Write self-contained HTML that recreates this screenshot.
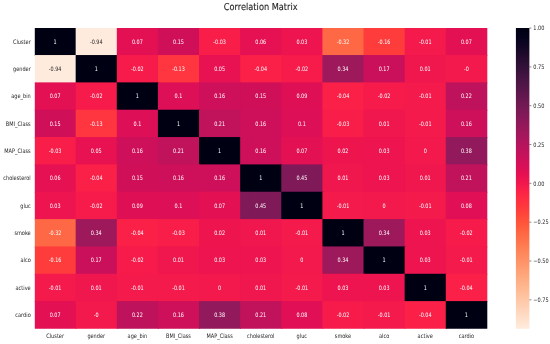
<!DOCTYPE html>
<html lang="en"><head><meta charset="utf-8"><title>Correlation Matrix</title>
<style>html,body{margin:0;padding:0;background:#fff;}svg{display:block;}text{font-family:"DejaVu Sans", "Liberation Sans", sans-serif;text-rendering:geometricPrecision;}</style></head><body>
<svg width="550" height="344" viewBox="0 0 550 344">
<rect x="0" y="0" width="550" height="344" fill="#ffffff"/>
<defs><linearGradient id="cb" x1="0" y1="0" x2="0" y2="1"><stop offset="0.0000" stop-color="#000013"/><stop offset="0.0156" stop-color="#010117"/><stop offset="0.0312" stop-color="#04021b"/><stop offset="0.0469" stop-color="#0b0420"/><stop offset="0.0625" stop-color="#120624"/><stop offset="0.0781" stop-color="#1a0929"/><stop offset="0.0938" stop-color="#220b2e"/><stop offset="0.1094" stop-color="#290e32"/><stop offset="0.1250" stop-color="#311037"/><stop offset="0.1406" stop-color="#38113b"/><stop offset="0.1562" stop-color="#401340"/><stop offset="0.1719" stop-color="#481444"/><stop offset="0.1875" stop-color="#4f1647"/><stop offset="0.2031" stop-color="#57174b"/><stop offset="0.2188" stop-color="#5f174e"/><stop offset="0.2344" stop-color="#671850"/><stop offset="0.2500" stop-color="#6f1953"/><stop offset="0.2656" stop-color="#761955"/><stop offset="0.2812" stop-color="#7e1957"/><stop offset="0.2969" stop-color="#861959"/><stop offset="0.3125" stop-color="#8e195a"/><stop offset="0.3281" stop-color="#96185b"/><stop offset="0.3438" stop-color="#9e185c"/><stop offset="0.3594" stop-color="#a6175d"/><stop offset="0.3750" stop-color="#ae155d"/><stop offset="0.3906" stop-color="#b7145d"/><stop offset="0.4062" stop-color="#bf125c"/><stop offset="0.4219" stop-color="#c6115b"/><stop offset="0.4375" stop-color="#ce105a"/><stop offset="0.4531" stop-color="#d60f58"/><stop offset="0.4688" stop-color="#dd0f56"/><stop offset="0.4844" stop-color="#e41053"/><stop offset="0.5000" stop-color="#eb1350"/><stop offset="0.5156" stop-color="#f1174d"/><stop offset="0.5312" stop-color="#f71d4a"/><stop offset="0.5469" stop-color="#fd2347"/><stop offset="0.5625" stop-color="#ff2a43"/><stop offset="0.5781" stop-color="#ff3140"/><stop offset="0.5938" stop-color="#ff383d"/><stop offset="0.6094" stop-color="#ff403c"/><stop offset="0.6250" stop-color="#ff493b"/><stop offset="0.6406" stop-color="#ff513b"/><stop offset="0.6562" stop-color="#ff593d"/><stop offset="0.6719" stop-color="#ff6240"/><stop offset="0.6875" stop-color="#ff6a45"/><stop offset="0.7031" stop-color="#ff714a"/><stop offset="0.7188" stop-color="#ff794f"/><stop offset="0.7344" stop-color="#ff8055"/><stop offset="0.7500" stop-color="#ff875c"/><stop offset="0.7656" stop-color="#ff8e62"/><stop offset="0.7812" stop-color="#ff9569"/><stop offset="0.7969" stop-color="#ff9c70"/><stop offset="0.8125" stop-color="#ffa377"/><stop offset="0.8281" stop-color="#ffa97f"/><stop offset="0.8438" stop-color="#ffb086"/><stop offset="0.8594" stop-color="#ffb68e"/><stop offset="0.8750" stop-color="#ffbc97"/><stop offset="0.8906" stop-color="#ffc29f"/><stop offset="0.9062" stop-color="#ffc8a8"/><stop offset="0.9219" stop-color="#ffceb1"/><stop offset="0.9375" stop-color="#ffd4ba"/><stop offset="0.9531" stop-color="#ffdac3"/><stop offset="0.9688" stop-color="#ffe0cc"/><stop offset="0.9844" stop-color="#ffe6d4"/><stop offset="1.0000" stop-color="#ffebdd"/></linearGradient></defs>
<g>
<rect x="34.80" y="28.00" width="41.87" height="28.04" fill="#000013"/>
<rect x="75.67" y="28.00" width="42.12" height="28.04" fill="#ffebdd"/>
<rect x="116.80" y="28.00" width="42.12" height="28.04" fill="#e31054"/>
<rect x="157.92" y="28.00" width="42.12" height="28.04" fill="#d00f59"/>
<rect x="199.04" y="28.00" width="42.12" height="28.04" fill="#f91e49"/>
<rect x="240.16" y="28.00" width="42.12" height="28.04" fill="#e61153"/>
<rect x="281.29" y="28.00" width="42.12" height="28.04" fill="#ed1450"/>
<rect x="322.41" y="28.00" width="42.12" height="28.04" fill="#ff6844"/>
<rect x="363.53" y="28.00" width="42.12" height="28.04" fill="#ff3c3c"/>
<rect x="404.65" y="28.00" width="42.12" height="28.04" fill="#f41a4c"/>
<rect x="445.78" y="28.00" width="41.52" height="28.04" fill="#e31054"/>
<rect x="34.80" y="55.04" width="41.87" height="28.34" fill="#ffebdd"/>
<rect x="75.67" y="55.04" width="42.12" height="28.34" fill="#000013"/>
<rect x="116.80" y="55.04" width="42.12" height="28.34" fill="#f61b4b"/>
<rect x="157.92" y="55.04" width="42.12" height="28.34" fill="#ff353f"/>
<rect x="199.04" y="55.04" width="42.12" height="28.34" fill="#e81152"/>
<rect x="240.16" y="55.04" width="42.12" height="28.34" fill="#fa2048"/>
<rect x="281.29" y="55.04" width="42.12" height="28.34" fill="#f61b4b"/>
<rect x="322.41" y="55.04" width="42.12" height="28.34" fill="#9e185c"/>
<rect x="363.53" y="55.04" width="42.12" height="28.34" fill="#ca105b"/>
<rect x="404.65" y="55.04" width="42.12" height="28.34" fill="#f0164e"/>
<rect x="445.78" y="55.04" width="41.52" height="28.34" fill="#f3194c"/>
<rect x="34.80" y="82.38" width="41.87" height="28.34" fill="#e31054"/>
<rect x="75.67" y="82.38" width="42.12" height="28.34" fill="#f61b4b"/>
<rect x="116.80" y="82.38" width="42.12" height="28.34" fill="#000013"/>
<rect x="157.92" y="82.38" width="42.12" height="28.34" fill="#dd0f56"/>
<rect x="199.04" y="82.38" width="42.12" height="28.34" fill="#ce105a"/>
<rect x="240.16" y="82.38" width="42.12" height="28.34" fill="#d00f59"/>
<rect x="281.29" y="82.38" width="42.12" height="28.34" fill="#df0f55"/>
<rect x="322.41" y="82.38" width="42.12" height="28.34" fill="#fa2048"/>
<rect x="363.53" y="82.38" width="42.12" height="28.34" fill="#f61b4b"/>
<rect x="404.65" y="82.38" width="42.12" height="28.34" fill="#f41a4c"/>
<rect x="445.78" y="82.38" width="41.52" height="28.34" fill="#bf125c"/>
<rect x="34.80" y="109.72" width="41.87" height="28.34" fill="#d00f59"/>
<rect x="75.67" y="109.72" width="42.12" height="28.34" fill="#ff353f"/>
<rect x="116.80" y="109.72" width="42.12" height="28.34" fill="#dd0f56"/>
<rect x="157.92" y="109.72" width="42.12" height="28.34" fill="#000013"/>
<rect x="199.04" y="109.72" width="42.12" height="28.34" fill="#c1125c"/>
<rect x="240.16" y="109.72" width="42.12" height="28.34" fill="#ce105a"/>
<rect x="281.29" y="109.72" width="42.12" height="28.34" fill="#dd0f56"/>
<rect x="322.41" y="109.72" width="42.12" height="28.34" fill="#f91e49"/>
<rect x="363.53" y="109.72" width="42.12" height="28.34" fill="#f0164e"/>
<rect x="404.65" y="109.72" width="42.12" height="28.34" fill="#f41a4c"/>
<rect x="445.78" y="109.72" width="41.52" height="28.34" fill="#ce105a"/>
<rect x="34.80" y="137.06" width="41.87" height="28.34" fill="#f91e49"/>
<rect x="75.67" y="137.06" width="42.12" height="28.34" fill="#e81152"/>
<rect x="116.80" y="137.06" width="42.12" height="28.34" fill="#ce105a"/>
<rect x="157.92" y="137.06" width="42.12" height="28.34" fill="#c1125c"/>
<rect x="199.04" y="137.06" width="42.12" height="28.34" fill="#000013"/>
<rect x="240.16" y="137.06" width="42.12" height="28.34" fill="#ce105a"/>
<rect x="281.29" y="137.06" width="42.12" height="28.34" fill="#e31054"/>
<rect x="322.41" y="137.06" width="42.12" height="28.34" fill="#ee154f"/>
<rect x="363.53" y="137.06" width="42.12" height="28.34" fill="#ed1450"/>
<rect x="404.65" y="137.06" width="42.12" height="28.34" fill="#f3194c"/>
<rect x="445.78" y="137.06" width="41.52" height="28.34" fill="#92195b"/>
<rect x="34.80" y="164.40" width="41.87" height="28.34" fill="#e61153"/>
<rect x="75.67" y="164.40" width="42.12" height="28.34" fill="#fa2048"/>
<rect x="116.80" y="164.40" width="42.12" height="28.34" fill="#d00f59"/>
<rect x="157.92" y="164.40" width="42.12" height="28.34" fill="#ce105a"/>
<rect x="199.04" y="164.40" width="42.12" height="28.34" fill="#ce105a"/>
<rect x="240.16" y="164.40" width="42.12" height="28.34" fill="#000013"/>
<rect x="281.29" y="164.40" width="42.12" height="28.34" fill="#801958"/>
<rect x="322.41" y="164.40" width="42.12" height="28.34" fill="#f0164e"/>
<rect x="363.53" y="164.40" width="42.12" height="28.34" fill="#ed1450"/>
<rect x="404.65" y="164.40" width="42.12" height="28.34" fill="#f0164e"/>
<rect x="445.78" y="164.40" width="41.52" height="28.34" fill="#c1125c"/>
<rect x="34.80" y="191.75" width="41.87" height="28.34" fill="#ed1450"/>
<rect x="75.67" y="191.75" width="42.12" height="28.34" fill="#f61b4b"/>
<rect x="116.80" y="191.75" width="42.12" height="28.34" fill="#df0f55"/>
<rect x="157.92" y="191.75" width="42.12" height="28.34" fill="#dd0f56"/>
<rect x="199.04" y="191.75" width="42.12" height="28.34" fill="#e31054"/>
<rect x="240.16" y="191.75" width="42.12" height="28.34" fill="#801958"/>
<rect x="281.29" y="191.75" width="42.12" height="28.34" fill="#000013"/>
<rect x="322.41" y="191.75" width="42.12" height="28.34" fill="#f41a4c"/>
<rect x="363.53" y="191.75" width="42.12" height="28.34" fill="#f3194c"/>
<rect x="404.65" y="191.75" width="42.12" height="28.34" fill="#f41a4c"/>
<rect x="445.78" y="191.75" width="41.52" height="28.34" fill="#e10f55"/>
<rect x="34.80" y="219.09" width="41.87" height="28.34" fill="#ff6844"/>
<rect x="75.67" y="219.09" width="42.12" height="28.34" fill="#9e185c"/>
<rect x="116.80" y="219.09" width="42.12" height="28.34" fill="#fa2048"/>
<rect x="157.92" y="219.09" width="42.12" height="28.34" fill="#f91e49"/>
<rect x="199.04" y="219.09" width="42.12" height="28.34" fill="#ee154f"/>
<rect x="240.16" y="219.09" width="42.12" height="28.34" fill="#f0164e"/>
<rect x="281.29" y="219.09" width="42.12" height="28.34" fill="#f41a4c"/>
<rect x="322.41" y="219.09" width="42.12" height="28.34" fill="#000013"/>
<rect x="363.53" y="219.09" width="42.12" height="28.34" fill="#9e185c"/>
<rect x="404.65" y="219.09" width="42.12" height="28.34" fill="#ed1450"/>
<rect x="445.78" y="219.09" width="41.52" height="28.34" fill="#f61b4b"/>
<rect x="34.80" y="246.43" width="41.87" height="28.34" fill="#ff3c3c"/>
<rect x="75.67" y="246.43" width="42.12" height="28.34" fill="#ca105b"/>
<rect x="116.80" y="246.43" width="42.12" height="28.34" fill="#f61b4b"/>
<rect x="157.92" y="246.43" width="42.12" height="28.34" fill="#f0164e"/>
<rect x="199.04" y="246.43" width="42.12" height="28.34" fill="#ed1450"/>
<rect x="240.16" y="246.43" width="42.12" height="28.34" fill="#ed1450"/>
<rect x="281.29" y="246.43" width="42.12" height="28.34" fill="#f3194c"/>
<rect x="322.41" y="246.43" width="42.12" height="28.34" fill="#9e185c"/>
<rect x="363.53" y="246.43" width="42.12" height="28.34" fill="#000013"/>
<rect x="404.65" y="246.43" width="42.12" height="28.34" fill="#ed1450"/>
<rect x="445.78" y="246.43" width="41.52" height="28.34" fill="#f41a4c"/>
<rect x="34.80" y="273.77" width="41.87" height="28.34" fill="#f41a4c"/>
<rect x="75.67" y="273.77" width="42.12" height="28.34" fill="#f0164e"/>
<rect x="116.80" y="273.77" width="42.12" height="28.34" fill="#f41a4c"/>
<rect x="157.92" y="273.77" width="42.12" height="28.34" fill="#f41a4c"/>
<rect x="199.04" y="273.77" width="42.12" height="28.34" fill="#f3194c"/>
<rect x="240.16" y="273.77" width="42.12" height="28.34" fill="#f0164e"/>
<rect x="281.29" y="273.77" width="42.12" height="28.34" fill="#f41a4c"/>
<rect x="322.41" y="273.77" width="42.12" height="28.34" fill="#ed1450"/>
<rect x="363.53" y="273.77" width="42.12" height="28.34" fill="#ed1450"/>
<rect x="404.65" y="273.77" width="42.12" height="28.34" fill="#000013"/>
<rect x="445.78" y="273.77" width="41.52" height="28.34" fill="#fa2048"/>
<rect x="34.80" y="301.11" width="41.87" height="27.64" fill="#e31054"/>
<rect x="75.67" y="301.11" width="42.12" height="27.64" fill="#f3194c"/>
<rect x="116.80" y="301.11" width="42.12" height="27.64" fill="#bf125c"/>
<rect x="157.92" y="301.11" width="42.12" height="27.64" fill="#ce105a"/>
<rect x="199.04" y="301.11" width="42.12" height="27.64" fill="#92195b"/>
<rect x="240.16" y="301.11" width="42.12" height="27.64" fill="#c1125c"/>
<rect x="281.29" y="301.11" width="42.12" height="27.64" fill="#e10f55"/>
<rect x="322.41" y="301.11" width="42.12" height="27.64" fill="#f61b4b"/>
<rect x="363.53" y="301.11" width="42.12" height="27.64" fill="#f41a4c"/>
<rect x="404.65" y="301.11" width="42.12" height="27.64" fill="#fa2048"/>
<rect x="445.78" y="301.11" width="41.52" height="27.64" fill="#000013"/>
</g>
<g font-size="6.1" text-anchor="middle">
<text transform="translate(55.11,41.37) scale(0.8,1)" dy="0.355em" fill="#ffffff">1</text>
<text transform="translate(96.23,41.37) scale(0.8,1)" dy="0.355em" fill="#262626">-0.94</text>
<text transform="translate(137.36,41.37) scale(0.8,1)" dy="0.355em" fill="#ffffff">0.07</text>
<text transform="translate(178.48,41.37) scale(0.8,1)" dy="0.355em" fill="#ffffff">0.15</text>
<text transform="translate(219.60,41.37) scale(0.8,1)" dy="0.355em" fill="#ffffff">-0.03</text>
<text transform="translate(260.72,41.37) scale(0.8,1)" dy="0.355em" fill="#ffffff">0.06</text>
<text transform="translate(301.85,41.37) scale(0.8,1)" dy="0.355em" fill="#ffffff">0.03</text>
<text transform="translate(342.97,41.37) scale(0.8,1)" dy="0.355em" fill="#ffffff">-0.32</text>
<text transform="translate(384.09,41.37) scale(0.8,1)" dy="0.355em" fill="#ffffff">-0.16</text>
<text transform="translate(425.22,41.37) scale(0.8,1)" dy="0.355em" fill="#ffffff">-0.01</text>
<text transform="translate(466.34,41.37) scale(0.8,1)" dy="0.355em" fill="#ffffff">0.07</text>
<text transform="translate(55.11,68.71) scale(0.8,1)" dy="0.355em" fill="#262626">-0.94</text>
<text transform="translate(96.23,68.71) scale(0.8,1)" dy="0.355em" fill="#ffffff">1</text>
<text transform="translate(137.36,68.71) scale(0.8,1)" dy="0.355em" fill="#ffffff">-0.02</text>
<text transform="translate(178.48,68.71) scale(0.8,1)" dy="0.355em" fill="#ffffff">-0.13</text>
<text transform="translate(219.60,68.71) scale(0.8,1)" dy="0.355em" fill="#ffffff">0.05</text>
<text transform="translate(260.72,68.71) scale(0.8,1)" dy="0.355em" fill="#ffffff">-0.04</text>
<text transform="translate(301.85,68.71) scale(0.8,1)" dy="0.355em" fill="#ffffff">-0.02</text>
<text transform="translate(342.97,68.71) scale(0.8,1)" dy="0.355em" fill="#ffffff">0.34</text>
<text transform="translate(384.09,68.71) scale(0.8,1)" dy="0.355em" fill="#ffffff">0.17</text>
<text transform="translate(425.22,68.71) scale(0.8,1)" dy="0.355em" fill="#ffffff">0.01</text>
<text transform="translate(466.34,68.71) scale(0.8,1)" dy="0.355em" fill="#ffffff">-0</text>
<text transform="translate(55.11,96.05) scale(0.8,1)" dy="0.355em" fill="#ffffff">0.07</text>
<text transform="translate(96.23,96.05) scale(0.8,1)" dy="0.355em" fill="#ffffff">-0.02</text>
<text transform="translate(137.36,96.05) scale(0.8,1)" dy="0.355em" fill="#ffffff">1</text>
<text transform="translate(178.48,96.05) scale(0.8,1)" dy="0.355em" fill="#ffffff">0.1</text>
<text transform="translate(219.60,96.05) scale(0.8,1)" dy="0.355em" fill="#ffffff">0.16</text>
<text transform="translate(260.72,96.05) scale(0.8,1)" dy="0.355em" fill="#ffffff">0.15</text>
<text transform="translate(301.85,96.05) scale(0.8,1)" dy="0.355em" fill="#ffffff">0.09</text>
<text transform="translate(342.97,96.05) scale(0.8,1)" dy="0.355em" fill="#ffffff">-0.04</text>
<text transform="translate(384.09,96.05) scale(0.8,1)" dy="0.355em" fill="#ffffff">-0.02</text>
<text transform="translate(425.22,96.05) scale(0.8,1)" dy="0.355em" fill="#ffffff">-0.01</text>
<text transform="translate(466.34,96.05) scale(0.8,1)" dy="0.355em" fill="#ffffff">0.22</text>
<text transform="translate(55.11,123.39) scale(0.8,1)" dy="0.355em" fill="#ffffff">0.15</text>
<text transform="translate(96.23,123.39) scale(0.8,1)" dy="0.355em" fill="#ffffff">-0.13</text>
<text transform="translate(137.36,123.39) scale(0.8,1)" dy="0.355em" fill="#ffffff">0.1</text>
<text transform="translate(178.48,123.39) scale(0.8,1)" dy="0.355em" fill="#ffffff">1</text>
<text transform="translate(219.60,123.39) scale(0.8,1)" dy="0.355em" fill="#ffffff">0.21</text>
<text transform="translate(260.72,123.39) scale(0.8,1)" dy="0.355em" fill="#ffffff">0.16</text>
<text transform="translate(301.85,123.39) scale(0.8,1)" dy="0.355em" fill="#ffffff">0.1</text>
<text transform="translate(342.97,123.39) scale(0.8,1)" dy="0.355em" fill="#ffffff">-0.03</text>
<text transform="translate(384.09,123.39) scale(0.8,1)" dy="0.355em" fill="#ffffff">0.01</text>
<text transform="translate(425.22,123.39) scale(0.8,1)" dy="0.355em" fill="#ffffff">-0.01</text>
<text transform="translate(466.34,123.39) scale(0.8,1)" dy="0.355em" fill="#ffffff">0.16</text>
<text transform="translate(55.11,150.73) scale(0.8,1)" dy="0.355em" fill="#ffffff">-0.03</text>
<text transform="translate(96.23,150.73) scale(0.8,1)" dy="0.355em" fill="#ffffff">0.05</text>
<text transform="translate(137.36,150.73) scale(0.8,1)" dy="0.355em" fill="#ffffff">0.16</text>
<text transform="translate(178.48,150.73) scale(0.8,1)" dy="0.355em" fill="#ffffff">0.21</text>
<text transform="translate(219.60,150.73) scale(0.8,1)" dy="0.355em" fill="#ffffff">1</text>
<text transform="translate(260.72,150.73) scale(0.8,1)" dy="0.355em" fill="#ffffff">0.16</text>
<text transform="translate(301.85,150.73) scale(0.8,1)" dy="0.355em" fill="#ffffff">0.07</text>
<text transform="translate(342.97,150.73) scale(0.8,1)" dy="0.355em" fill="#ffffff">0.02</text>
<text transform="translate(384.09,150.73) scale(0.8,1)" dy="0.355em" fill="#ffffff">0.03</text>
<text transform="translate(425.22,150.73) scale(0.8,1)" dy="0.355em" fill="#ffffff">0</text>
<text transform="translate(466.34,150.73) scale(0.8,1)" dy="0.355em" fill="#ffffff">0.38</text>
<text transform="translate(55.11,178.07) scale(0.8,1)" dy="0.355em" fill="#ffffff">0.06</text>
<text transform="translate(96.23,178.07) scale(0.8,1)" dy="0.355em" fill="#ffffff">-0.04</text>
<text transform="translate(137.36,178.07) scale(0.8,1)" dy="0.355em" fill="#ffffff">0.15</text>
<text transform="translate(178.48,178.07) scale(0.8,1)" dy="0.355em" fill="#ffffff">0.16</text>
<text transform="translate(219.60,178.07) scale(0.8,1)" dy="0.355em" fill="#ffffff">0.16</text>
<text transform="translate(260.72,178.07) scale(0.8,1)" dy="0.355em" fill="#ffffff">1</text>
<text transform="translate(301.85,178.07) scale(0.8,1)" dy="0.355em" fill="#ffffff">0.45</text>
<text transform="translate(342.97,178.07) scale(0.8,1)" dy="0.355em" fill="#ffffff">0.01</text>
<text transform="translate(384.09,178.07) scale(0.8,1)" dy="0.355em" fill="#ffffff">0.03</text>
<text transform="translate(425.22,178.07) scale(0.8,1)" dy="0.355em" fill="#ffffff">0.01</text>
<text transform="translate(466.34,178.07) scale(0.8,1)" dy="0.355em" fill="#ffffff">0.21</text>
<text transform="translate(55.11,205.42) scale(0.8,1)" dy="0.355em" fill="#ffffff">0.03</text>
<text transform="translate(96.23,205.42) scale(0.8,1)" dy="0.355em" fill="#ffffff">-0.02</text>
<text transform="translate(137.36,205.42) scale(0.8,1)" dy="0.355em" fill="#ffffff">0.09</text>
<text transform="translate(178.48,205.42) scale(0.8,1)" dy="0.355em" fill="#ffffff">0.1</text>
<text transform="translate(219.60,205.42) scale(0.8,1)" dy="0.355em" fill="#ffffff">0.07</text>
<text transform="translate(260.72,205.42) scale(0.8,1)" dy="0.355em" fill="#ffffff">0.45</text>
<text transform="translate(301.85,205.42) scale(0.8,1)" dy="0.355em" fill="#ffffff">1</text>
<text transform="translate(342.97,205.42) scale(0.8,1)" dy="0.355em" fill="#ffffff">-0.01</text>
<text transform="translate(384.09,205.42) scale(0.8,1)" dy="0.355em" fill="#ffffff">0</text>
<text transform="translate(425.22,205.42) scale(0.8,1)" dy="0.355em" fill="#ffffff">-0.01</text>
<text transform="translate(466.34,205.42) scale(0.8,1)" dy="0.355em" fill="#ffffff">0.08</text>
<text transform="translate(55.11,232.76) scale(0.8,1)" dy="0.355em" fill="#ffffff">-0.32</text>
<text transform="translate(96.23,232.76) scale(0.8,1)" dy="0.355em" fill="#ffffff">0.34</text>
<text transform="translate(137.36,232.76) scale(0.8,1)" dy="0.355em" fill="#ffffff">-0.04</text>
<text transform="translate(178.48,232.76) scale(0.8,1)" dy="0.355em" fill="#ffffff">-0.03</text>
<text transform="translate(219.60,232.76) scale(0.8,1)" dy="0.355em" fill="#ffffff">0.02</text>
<text transform="translate(260.72,232.76) scale(0.8,1)" dy="0.355em" fill="#ffffff">0.01</text>
<text transform="translate(301.85,232.76) scale(0.8,1)" dy="0.355em" fill="#ffffff">-0.01</text>
<text transform="translate(342.97,232.76) scale(0.8,1)" dy="0.355em" fill="#ffffff">1</text>
<text transform="translate(384.09,232.76) scale(0.8,1)" dy="0.355em" fill="#ffffff">0.34</text>
<text transform="translate(425.22,232.76) scale(0.8,1)" dy="0.355em" fill="#ffffff">0.03</text>
<text transform="translate(466.34,232.76) scale(0.8,1)" dy="0.355em" fill="#ffffff">-0.02</text>
<text transform="translate(55.11,260.10) scale(0.8,1)" dy="0.355em" fill="#ffffff">-0.16</text>
<text transform="translate(96.23,260.10) scale(0.8,1)" dy="0.355em" fill="#ffffff">0.17</text>
<text transform="translate(137.36,260.10) scale(0.8,1)" dy="0.355em" fill="#ffffff">-0.02</text>
<text transform="translate(178.48,260.10) scale(0.8,1)" dy="0.355em" fill="#ffffff">0.01</text>
<text transform="translate(219.60,260.10) scale(0.8,1)" dy="0.355em" fill="#ffffff">0.03</text>
<text transform="translate(260.72,260.10) scale(0.8,1)" dy="0.355em" fill="#ffffff">0.03</text>
<text transform="translate(301.85,260.10) scale(0.8,1)" dy="0.355em" fill="#ffffff">0</text>
<text transform="translate(342.97,260.10) scale(0.8,1)" dy="0.355em" fill="#ffffff">0.34</text>
<text transform="translate(384.09,260.10) scale(0.8,1)" dy="0.355em" fill="#ffffff">1</text>
<text transform="translate(425.22,260.10) scale(0.8,1)" dy="0.355em" fill="#ffffff">0.03</text>
<text transform="translate(466.34,260.10) scale(0.8,1)" dy="0.355em" fill="#ffffff">-0.01</text>
<text transform="translate(55.11,287.44) scale(0.8,1)" dy="0.355em" fill="#ffffff">-0.01</text>
<text transform="translate(96.23,287.44) scale(0.8,1)" dy="0.355em" fill="#ffffff">0.01</text>
<text transform="translate(137.36,287.44) scale(0.8,1)" dy="0.355em" fill="#ffffff">-0.01</text>
<text transform="translate(178.48,287.44) scale(0.8,1)" dy="0.355em" fill="#ffffff">-0.01</text>
<text transform="translate(219.60,287.44) scale(0.8,1)" dy="0.355em" fill="#ffffff">0</text>
<text transform="translate(260.72,287.44) scale(0.8,1)" dy="0.355em" fill="#ffffff">0.01</text>
<text transform="translate(301.85,287.44) scale(0.8,1)" dy="0.355em" fill="#ffffff">-0.01</text>
<text transform="translate(342.97,287.44) scale(0.8,1)" dy="0.355em" fill="#ffffff">0.03</text>
<text transform="translate(384.09,287.44) scale(0.8,1)" dy="0.355em" fill="#ffffff">0.03</text>
<text transform="translate(425.22,287.44) scale(0.8,1)" dy="0.355em" fill="#ffffff">1</text>
<text transform="translate(466.34,287.44) scale(0.8,1)" dy="0.355em" fill="#ffffff">-0.04</text>
<text transform="translate(55.11,314.78) scale(0.8,1)" dy="0.355em" fill="#ffffff">0.07</text>
<text transform="translate(96.23,314.78) scale(0.8,1)" dy="0.355em" fill="#ffffff">-0</text>
<text transform="translate(137.36,314.78) scale(0.8,1)" dy="0.355em" fill="#ffffff">0.22</text>
<text transform="translate(178.48,314.78) scale(0.8,1)" dy="0.355em" fill="#ffffff">0.16</text>
<text transform="translate(219.60,314.78) scale(0.8,1)" dy="0.355em" fill="#ffffff">0.38</text>
<text transform="translate(260.72,314.78) scale(0.8,1)" dy="0.355em" fill="#ffffff">0.21</text>
<text transform="translate(301.85,314.78) scale(0.8,1)" dy="0.355em" fill="#ffffff">0.08</text>
<text transform="translate(342.97,314.78) scale(0.8,1)" dy="0.355em" fill="#ffffff">-0.02</text>
<text transform="translate(384.09,314.78) scale(0.8,1)" dy="0.355em" fill="#ffffff">-0.01</text>
<text transform="translate(425.22,314.78) scale(0.8,1)" dy="0.355em" fill="#ffffff">-0.04</text>
<text transform="translate(466.34,314.78) scale(0.8,1)" dy="0.355em" fill="#ffffff">1</text>
</g>
<g font-size="6.1" text-anchor="end" fill="#262626">
<text transform="translate(30.7,41.37) scale(0.82,1)" dy="0.355em">Cluster</text>
<text transform="translate(30.7,68.71) scale(0.82,1)" dy="0.355em">gender</text>
<text transform="translate(30.7,96.05) scale(0.82,1)" dy="0.355em">age_bin</text>
<text transform="translate(30.7,123.39) scale(0.82,1)" dy="0.355em">BMI_Class</text>
<text transform="translate(30.7,150.73) scale(0.82,1)" dy="0.355em">MAP_Class</text>
<text transform="translate(30.7,178.07) scale(0.82,1)" dy="0.355em">cholesterol</text>
<text transform="translate(30.7,205.42) scale(0.82,1)" dy="0.355em">gluc</text>
<text transform="translate(30.7,232.76) scale(0.82,1)" dy="0.355em">smoke</text>
<text transform="translate(30.7,260.10) scale(0.82,1)" dy="0.355em">alco</text>
<text transform="translate(30.7,287.44) scale(0.82,1)" dy="0.355em">active</text>
<text transform="translate(30.7,314.78) scale(0.82,1)" dy="0.355em">cardio</text>
</g>
<g font-size="6.1" text-anchor="middle" fill="#262626">
<text transform="translate(55.11,338.3) scale(0.82,1)">Cluster</text>
<text transform="translate(96.23,338.3) scale(0.82,1)">gender</text>
<text transform="translate(137.36,338.3) scale(0.82,1)">age_bin</text>
<text transform="translate(178.48,338.3) scale(0.82,1)">BMI_Class</text>
<text transform="translate(219.60,338.3) scale(0.82,1)">MAP_Class</text>
<text transform="translate(260.72,338.3) scale(0.82,1)">cholesterol</text>
<text transform="translate(301.85,338.3) scale(0.82,1)">gluc</text>
<text transform="translate(342.97,338.3) scale(0.82,1)">smoke</text>
<text transform="translate(384.09,338.3) scale(0.82,1)">alco</text>
<text transform="translate(425.22,338.3) scale(0.82,1)">active</text>
<text transform="translate(466.34,338.3) scale(0.82,1)">cardio</text>
</g>
<text transform="translate(260.70,9.85) scale(0.865,1)" font-size="9.5" text-anchor="middle" fill="#262626" stroke="#262626" stroke-width="0.12">Correlation Matrix</text>
<rect x="515.90" y="28.00" width="13.50" height="300.75" fill="url(#cb)"/>
<g font-size="6.1" fill="#262626" stroke="none">
<line x1="529.40" x2="531.40" y1="28.05" y2="28.05" stroke="#262626" stroke-width="0.55"/>
<text transform="translate(533.3,28.05) scale(0.82,1)" dy="0.355em">1.00</text>
<line x1="529.40" x2="531.40" y1="66.88" y2="66.88" stroke="#262626" stroke-width="0.55"/>
<text transform="translate(533.3,66.88) scale(0.82,1)" dy="0.355em">0.75</text>
<line x1="529.40" x2="531.40" y1="105.70" y2="105.70" stroke="#262626" stroke-width="0.55"/>
<text transform="translate(533.3,105.70) scale(0.82,1)" dy="0.355em">0.50</text>
<line x1="529.40" x2="531.40" y1="144.53" y2="144.53" stroke="#262626" stroke-width="0.55"/>
<text transform="translate(533.3,144.53) scale(0.82,1)" dy="0.355em">0.25</text>
<line x1="529.40" x2="531.40" y1="183.35" y2="183.35" stroke="#262626" stroke-width="0.55"/>
<text transform="translate(533.3,183.35) scale(0.82,1)" dy="0.355em">0.00</text>
<line x1="529.40" x2="531.40" y1="222.18" y2="222.18" stroke="#262626" stroke-width="0.55"/>
<text transform="translate(533.3,222.18) scale(0.82,1)" dy="0.355em">−0.25</text>
<line x1="529.40" x2="531.40" y1="261.00" y2="261.00" stroke="#262626" stroke-width="0.55"/>
<text transform="translate(533.3,261.00) scale(0.82,1)" dy="0.355em">−0.50</text>
<line x1="529.40" x2="531.40" y1="299.83" y2="299.83" stroke="#262626" stroke-width="0.55"/>
<text transform="translate(533.3,299.83) scale(0.82,1)" dy="0.355em">−0.75</text>
</g>
</svg></body></html>
